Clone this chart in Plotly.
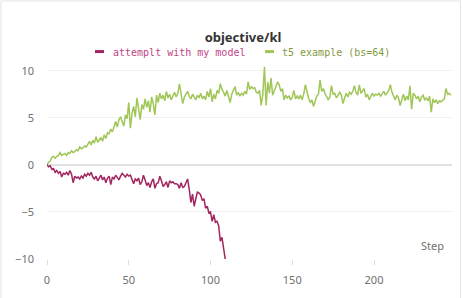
import plotly.graph_objects as go

series_names = ["attemplt with my model", "t5 example (bs=64)"]
line_colors = ["#a3255f", "#9fc656"]
text_colors = ["#c04585", "#7f9b3d"]

attempt_values = [
    0.0, -0.2, -0.1, -0.5, -0.4, -0.8, -0.6, -0.9, -0.7, -1.3,
    -0.9, -1.0, -0.8, -1.1, -0.6, -1.0, -1.9, -1.2, -1.4, -1.3,
    -1.5, -1.2, -1.4, -1.0, -1.2, -0.9, -1.1, -0.8, -1.3, -1.5,
    -1.2, -1.7, -1.4, -1.1, -1.6, -1.3, -1.9, -1.4, -1.2, -2.1,
    -1.3, -1.5, -1.1, -1.4, -1.6, -1.2, -0.9, -1.1, -1.3, -1.0,
    -1.2, -1.1, -1.6, -2.0, -1.5, -1.7, -1.4, -2.1, -1.8, -1.1,
    -1.6, -2.2, -1.9, -2.4, -1.8, -1.5, -2.5, -2.0, -1.9, -1.2,
    -1.7, -2.3, -2.1, -1.8, -2.4, -1.7, -1.9, -1.8, -2.0, -2.0,
    -2.1, -2.5, -1.9, -2.4, -2.3, -1.8, -1.5, -2.6, -4.0, -3.1,
    -4.4, -3.6, -2.9, -3.0, -3.2, -3.8, -3.6, -4.6, -4.4, -5.1,
    -5.0, -6.0, -5.3, -6.1, -6.0, -6.5, -8.1, -7.7, -9.0, -10.0,
]
attempt_steps = list(range(len(attempt_values)))

t5_values = [
    0.0, 0.3, 0.4, 0.8, 0.9, 0.7, 0.9, 1.0, 1.3, 1.0,
    1.1, 1.2, 1.0, 1.3, 1.2, 1.5, 1.3, 1.4, 1.6, 1.5,
    1.9, 1.7, 1.8, 2.0, 1.9, 2.2, 2.5, 2.1, 2.6, 2.3,
    3.0, 2.4, 2.7, 2.9, 2.5, 3.2, 2.8, 3.4, 3.3, 3.8,
    3.5, 4.2, 4.6, 4.0, 4.8, 5.1, 4.5, 4.1, 5.3, 4.9,
    6.6, 3.9, 5.5, 6.2, 5.1, 7.1, 6.0, 4.8, 6.4, 5.9,
    7.0, 6.1, 6.8, 5.6, 7.2, 6.5, 5.3, 7.4, 6.6, 7.6,
    7.0, 7.4, 6.8, 7.8, 7.1, 7.5, 6.9, 7.3, 7.7, 7.2,
    7.6, 8.6, 7.4, 6.5, 7.2, 7.6, 7.8, 7.3, 7.0, 7.5,
    7.2, 6.9, 7.4, 7.1, 7.6, 7.0, 7.3, 6.9, 7.8, 7.2,
    8.1, 6.7, 7.5, 7.0, 7.9, 7.6, 8.6, 8.0, 7.7, 7.3,
    7.9, 7.2, 6.6, 7.5, 7.9, 8.3, 7.4, 7.7, 7.3, 7.6,
    7.4, 7.8, 7.5, 8.8, 8.0, 8.3, 8.1, 8.2, 7.7, 7.6,
    7.9, 6.3, 7.5, 10.4, 6.3, 8.8, 7.6, 9.2, 7.4, 7.9,
    8.2, 8.8, 8.5, 7.8, 8.1, 6.9, 7.4, 7.1, 7.3, 6.9,
    7.2, 7.9, 7.0, 7.3, 7.0, 7.4, 6.9, 7.5, 8.5, 7.6,
    7.1, 6.6, 6.9, 6.2, 6.7, 7.3, 7.5, 9.0, 7.8, 8.1,
    7.6, 7.3, 6.9, 7.2, 8.4, 7.5, 7.6, 7.1, 7.4, 7.7,
    7.4, 6.5, 7.1, 7.6, 7.2, 7.7, 7.5, 7.8, 8.4, 7.7,
    7.4, 8.5, 7.6, 7.9, 8.1, 7.2, 7.5, 6.9, 7.3, 7.6,
    7.3, 7.5, 7.4, 7.6, 7.3, 7.5, 7.8, 7.4, 7.6, 7.9,
    8.5, 7.7, 7.3, 6.9, 7.4, 7.1, 6.3, 7.0, 7.5, 6.8,
    7.3, 6.9, 8.4, 5.9, 7.6, 7.4, 7.0, 7.3, 6.7, 7.2,
    7.4, 6.9, 7.1, 6.8, 7.3, 5.6, 7.0, 6.6, 6.9, 6.5,
    6.8, 6.7, 6.9, 7.0, 8.1, 7.5, 7.6, 7.4,
]
t5_steps = list(range(len(t5_values)))

x_ticks = [0, 50, 100, 150, 200]
y_ticks = [-10, -5, 0, 5, 10]
title_text = "objective/kl"
x_title = "Step"

fig = go.Figure()
fig.add_trace(go.Scatter(x=t5_steps, y=t5_values, mode="lines", name=series_names[1],
                         line=dict(color=line_colors[1], width=1.5)))
fig.add_trace(go.Scatter(x=attempt_steps, y=attempt_values, mode="lines", name=series_names[0],
                         line=dict(color=line_colors[0], width=1.5)))

tick_font = dict(family="Noto Sans, sans-serif", size=11, color="#707070")

PL, PW, PB, PH = 47, 405, 259, 193.6


def px(x):
    return (x - PL) / PW


def py(y):
    return (PB - y) / PH


fig.update_layout(
    width=462, height=298,
    margin=dict(l=47, r=10, t=65, b=39),
    paper_bgcolor="white", plot_bgcolor="white",
    showlegend=False,
    title=dict(text="<b>" + title_text + "</b>", x=243 / 462, xanchor="center",
               y=1 - 37 / 298, yanchor="middle", yref="container",
               font=dict(family="Noto Sans, sans-serif", size=13, color="#333333")),
    xaxis=dict(range=[0, 247.7], tickvals=x_ticks, showgrid=False, zeroline=False,
               ticks="outside", ticklen=5, tickcolor="#dddddd", tickwidth=1,
               tickfont=tick_font, showline=False, ticklabelstandoff=6),
    yaxis=dict(range=[-10, 10.6], tickvals=y_ticks, showgrid=True, gridcolor="#f0f0f0",
               gridwidth=1, zeroline=True, zerolinecolor="#e2e2e2", zerolinewidth=2,
               tickfont=tick_font, ticklabelstandoff=12, showline=False),
)

# card border
fig.add_shape(type="rect", xref="paper", yref="paper",
              x0=px(1), x1=px(460.5), y0=py(310), y1=py(1.5),
              line=dict(color="#e3e3e3", width=1), fillcolor="rgba(0,0,0,0)", layer="below")

# legend: dashes + texts
legend_items = [(95, 112, 0), (265, 281, 1)]
for dash_x, text_x, i in legend_items:
    fig.add_shape(type="line", xref="paper", yref="paper",
                  x0=px(dash_x), x1=px(dash_x + 9), y0=py(52), y1=py(52),
                  line=dict(color=line_colors[i], width=3))
    fig.add_annotation(text=series_names[i], xref="paper", yref="paper",
                       x=px(text_x), y=py(52.5), xanchor="left", yanchor="middle",
                       showarrow=False, borderpad=0,
                       font=dict(family="DejaVu Sans Mono, monospace", size=10,
                                 color=text_colors[i]))

fig.add_annotation(text=x_title, xref="paper", yref="paper", x=px(446), y=0,
                   xanchor="right", yanchor="bottom", yshift=4, showarrow=False,
                   font=dict(family="Noto Sans, sans-serif", size=11, color="#707070"))

fig.write_html("out.html")
